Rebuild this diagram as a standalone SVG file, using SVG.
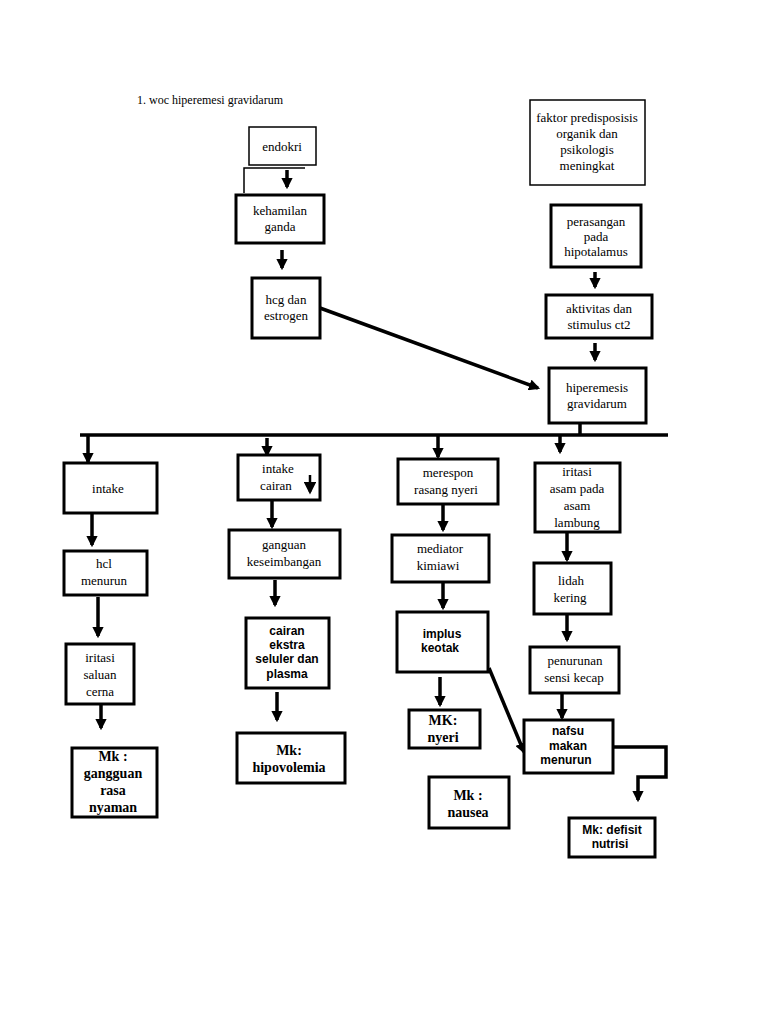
<svg xmlns="http://www.w3.org/2000/svg" width="768" height="1024" viewBox="0 0 768 1024">
<defs>
<style>
.b{fill:#fff;stroke:#000;stroke-width:3}
.t{fill:#fff;stroke:#000;stroke-width:1.5}
text{font-family:"Liberation Serif",serif;font-size:13px;text-anchor:middle;fill:#000}
.s{font-family:"Liberation Sans",sans-serif;font-weight:bold;font-size:12px}
.bs{font-weight:bold;font-size:14px}
.c{stroke:#000;stroke-width:3.5;fill:none}
.k{stroke:#000;stroke-width:1.5;fill:none}
</style>
<marker id="a" viewBox="0 0 10 10" refX="8" refY="5" markerWidth="3.2" markerHeight="3.2" orient="auto"><path d="M0,0L10,5L0,10z"/></marker>
<marker id="as" viewBox="0 0 10 10" refX="8" refY="5" markerWidth="5" markerHeight="5" orient="auto"><path d="M0,0L10,5L0,10z"/></marker>
</defs>
<rect width="768" height="1024" fill="#fff"/>
<text x="210" y="104" style="font-size:12px">1. woc hiperemesi gravidarum</text>
<g id="connectors">
<path class="k" d="M305,168H244V193"/>
<path class="c" d="M287,170V187" marker-end="url(#a)"/>
<path class="c" d="M282,250V268" marker-end="url(#a)"/>
<path class="c" d="M320,308L538,388" marker-end="url(#a)"/>
<path class="c" d="M595,272V287" marker-end="url(#a)"/>
<path class="c" d="M595,343V360" marker-end="url(#a)"/>
<path class="c" d="M580,423V435"/>
<path class="c" d="M80,435H668"/>
<path class="c" d="M88,435V462" marker-end="url(#a)"/>
<path class="c" d="M267,438V455" marker-end="url(#a)"/>
<path class="c" d="M438,435V457" marker-end="url(#a)"/>
<path class="c" d="M560,435V452" marker-end="url(#a)"/>
<path class="c" d="M92,513V545" marker-end="url(#a)"/>
<path class="c" d="M98,597V636" marker-end="url(#a)"/>
<path class="c" d="M101,705V728" marker-end="url(#a)"/>
<path class="c" d="M272,500V527" marker-end="url(#a)"/>
<path class="c" d="M275,580V605" marker-end="url(#a)"/>
<path class="c" d="M277,692V720" marker-end="url(#a)"/>
<path class="c" d="M443,505V530" marker-end="url(#a)"/>
<path class="c" d="M443,583V608" marker-end="url(#a)"/>
<path class="c" d="M440,677V705" marker-end="url(#a)"/>
<path class="c" d="M489,668L524,752" marker-end="url(#a)"/>
<path class="c" d="M567,533V560" marker-end="url(#a)"/>
<path class="c" d="M567,612V640" marker-end="url(#a)"/>
<path class="c" d="M562,694V718" marker-end="url(#a)"/>
<path class="c" d="M613,747H666V777H638V800" marker-end="url(#a)"/>
</g>
<g id="n1"><rect class="t" x="249" y="127" width="67" height="38"/><text x="282" y="151">endokri</text></g>
<g id="n2"><rect class="b" x="236" y="195" width="88" height="48"/><text x="280" y="215">kehamilan</text><text x="280" y="231">ganda</text></g>
<g id="n3"><rect class="b" x="252" y="278" width="68" height="60"/><text x="286" y="304">hcg dan</text><text x="286" y="320">estrogen</text></g>
<g id="n4"><rect class="t" x="530" y="100" width="115" height="85"/><text x="587" y="122">faktor  predisposisis</text><text x="587" y="138">organik dan</text><text x="587" y="154">psikologis</text><text x="587" y="170">meningkat</text></g>
<g id="n5"><rect class="b" x="551" y="205" width="90" height="62"/><text x="596" y="226">perasangan</text><text x="596" y="241">pada</text><text x="596" y="256">hipotalamus</text></g>
<g id="n6"><rect class="b" x="546" y="295" width="106" height="43"/><text x="599" y="313">aktivitas dan</text><text x="599" y="329">stimulus  ct2</text></g>
<g id="n7"><rect class="b" x="549" y="368" width="97" height="55"/><text x="597" y="392">hiperemesis</text><text x="597" y="408">gravidarum</text></g>
<g id="n8"><rect class="b" x="64" y="463" width="93" height="50"/><text x="108" y="493">intake</text></g>
<g id="n9"><rect class="b" x="64" y="551" width="83" height="44"/><text x="104" y="568">hcl</text><text x="104" y="585">menurun</text></g>
<g id="n10"><rect class="b" x="66" y="644" width="68" height="60"/><text x="100" y="662">iritasi</text><text x="100" y="679">saluan</text><text x="100" y="696">cerna</text></g>
<g id="n11"><rect class="b" x="72" y="748" width="85" height="69"/><text class="bs" x="113" y="761">Mk :</text><text class="bs" x="113" y="778">gangguan</text><text class="bs" x="113" y="795">rasa</text><text class="bs" x="113" y="812">nyaman</text></g>
<g id="n12"><rect class="b" x="238" y="455" width="82" height="45"/><text x="278" y="473">intake</text><text x="276" y="490">cairan</text><path class="c" d="M310,475V492" marker-end="url(#as)" style="stroke-width:2.5"/></g>
<g id="n13"><rect class="b" x="229" y="530" width="111" height="48"/><text x="284" y="549">ganguan</text><text x="284" y="566">keseimbangan</text></g>
<g id="n14"><rect class="b" x="246" y="618" width="83" height="70"/><text class="s" x="287" y="635">cairan</text><text class="s" x="287" y="649">ekstra</text><text class="s" x="287" y="663">seluler dan</text><text class="s" x="287" y="678">plasma</text></g>
<g id="n15"><rect class="b" x="237" y="733" width="108" height="50"/><text class="bs" x="289" y="755">Mk:</text><text class="bs" x="289" y="772">hipovolemia</text></g>
<g id="n16"><rect class="b" x="398" y="459" width="100" height="45"/><text x="448" y="477">merespon</text><text x="446" y="494">rasang nyeri</text></g>
<g id="n17"><rect class="b" x="392" y="535" width="97" height="47"/><text x="440" y="553">mediator</text><text x="438" y="570">kimiawi</text></g>
<g id="n18"><rect class="b" x="397" y="612" width="91" height="60"/><text class="s" x="442" y="638">implus</text><text class="s" x="440" y="652">keotak</text></g>
<g id="n19"><rect class="b" x="409" y="710" width="71" height="38"/><text class="bs" x="443" y="725">MK:</text><text class="bs" x="443" y="742">nyeri</text></g>
<g id="n20"><rect class="b" x="429" y="777" width="80" height="51"/><text class="bs" x="468" y="800">Mk :</text><text class="bs" x="468" y="817">nausea</text></g>
<g id="n21"><rect class="b" x="535" y="463" width="85" height="69"/><text x="577" y="476">iritasi</text><text x="577" y="493">asam pada</text><text x="577" y="510">asam</text><text x="577" y="527">lambung</text></g>
<g id="n22"><rect class="b" x="534" y="563" width="77" height="51"/><text x="571" y="585">lidah</text><text x="570" y="602">kering</text></g>
<g id="n23"><rect class="b" x="530" y="647" width="89" height="46"/><text x="575" y="665">penurunan</text><text x="574" y="682">sensi kecap</text></g>
<g id="n24"><rect class="b" x="524" y="720" width="89" height="53"/><text class="s" x="568" y="735">nafsu</text><text class="s" x="568" y="750">makan</text><text class="s" x="566" y="764">menurun</text></g>
<g id="n25"><rect class="b" x="569" y="818" width="86" height="39"/><text class="s" x="612" y="834">Mk: defisit</text><text class="s" x="610" y="848">nutrisi</text></g>
</svg>
